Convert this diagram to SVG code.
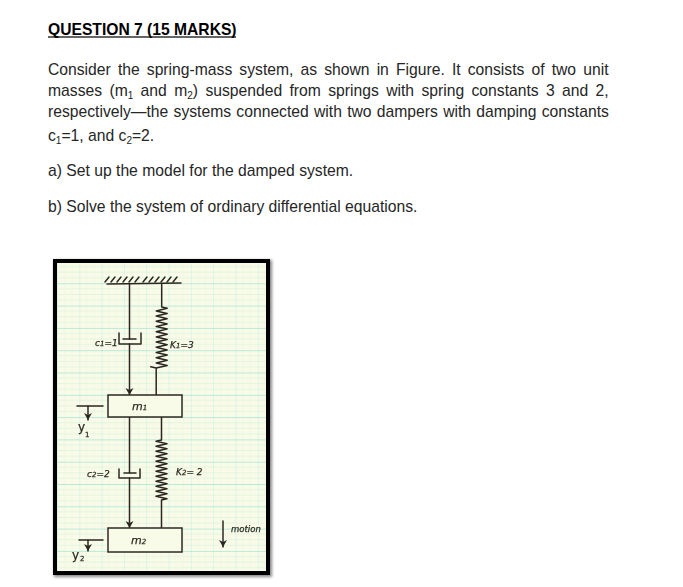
<svg xmlns="http://www.w3.org/2000/svg" width="683" height="587" viewBox="0 0 683 587">
<style>
.t{font-family:"Liberation Sans",Arial,sans-serif;font-size:15.7px;fill:#262626}
.h{font-family:"Liberation Sans",Arial,sans-serif;font-size:15.65px;font-weight:bold;fill:#000}
.sub{font-size:10px}
.ink{fill:none;stroke:#2c2820;stroke-width:1.5;stroke-linecap:round;stroke-linejoin:round}
.box{fill:#f9fbe9;stroke:#2c2820;stroke-width:1.5}
.hw{font-family:"DejaVu Sans",sans-serif;font-style:oblique;font-size:9px;fill:#2c2820;stroke:#2c2820;stroke-width:.25}
.s{font-size:7px}
</style>
<defs>
<pattern id="grid" patternUnits="userSpaceOnUse" x="57" y="261" width="22.3" height="22.3">
<rect width="22.3" height="22.3" fill="#f9fbe8"/>
<path d="M0 5.57H22.3M0 11.15H22.3M0 16.72H22.3" stroke="#dff3e0" stroke-width=".9" fill="none"/>
<path d="M7.4 0V22.3M14.8 0V22.3" stroke="#eef6e3" stroke-width=".8" fill="none"/>
<path d="M0 0V22.3" stroke="#c8eee0" stroke-width="1" fill="none"/>
<path d="M0 0H22.3" stroke="#98e2d2" stroke-width="1.3" fill="none"/>
</pattern>
<marker id="tip" markerWidth="9" markerHeight="9" refX="7" refY="4" orient="auto" markerUnits="userSpaceOnUse">
<path d="M0 0L7 4L0 8L2 4Z" fill="#2c2820"/>
</marker>
<filter id="soft" x="-5%" y="-5%" width="110%" height="110%"><feGaussianBlur stdDeviation=".35"/></filter>
<filter id="shadow" x="-5%" y="-5%" width="110%" height="110%"><feGaussianBlur stdDeviation="1.5"/></filter>
</defs>

<rect width="683" height="587" fill="#fff"/>

<g id="question">
<text class="h" x="48" y="35">QUESTION 7 (15 MARKS)</text>
<rect x="48" y="36.4" width="188" height="1.2" fill="#000"/>
<text class="t" x="48" y="75" word-spacing="2.75">Consider the spring-mass system, as shown in Figure. It consists of two unit</text>
<text class="t" x="48" y="96" word-spacing="3">masses (m<tspan class="sub" dy="3">1</tspan><tspan dy="-3"> and m</tspan><tspan class="sub" dy="3">2</tspan><tspan dy="-3">) suspended from springs with spring constants 3 and 2,</tspan></text>
<text class="t" x="48" y="117" word-spacing="0.9">respectively—the systems connected with two dampers with damping constants</text>
<text class="t" x="48" y="141">c<tspan class="sub" dy="3">1</tspan><tspan dy="-3">=1, and c</tspan><tspan class="sub" dy="3">2</tspan><tspan dy="-3">=2.</tspan></text>
<text class="t" x="48" y="176">a) Set up the model for the damped system.</text>
<text class="t" x="48" y="212">b) Solve the system of ordinary differential equations.</text>
</g>

<g id="frame">
<rect x="54" y="260" width="218" height="317" fill="#888" filter="url(#shadow)"/>
<rect x="55" y="261" width="213" height="312" fill="url(#grid)" stroke="#000" stroke-width="4"/>
</g>

<g filter="url(#soft)">
<g id="ceiling">
<path class="ink" d="M107 284L181 283"/>
<path class="ink" d="M105 282L109 277M111 282L115 277M117 282L121 277M123 282L127 277M129 282L133 277M135 282L139 277M143 282L147 277M149 282L153 277M155 282L159 277M161 282L165 277M167 282L171 277M173 282L177 277"/>
</g>

<g id="connectors">
<path class="ink" d="M129.5 284V339"/>
<path class="ink" d="M129.5 344V395" marker-end="url(#tip)"/>
<path class="ink" d="M161.7 284V307l5.5 1.3-11 2.6 11 2.6-11 2.6 11 2.6-11 2.6 11 2.6-11 2.6 11 2.6-11 2.6 11 2.6-11 2.6 11 2.6-11 2.6 11 2.6-11 2.6 11 2.6-11 2.6 11 2.6-11 2.6 11 2.6-11 2.6 11 2.6-11 2.6-5.5 -1.3 5.5 1.3V395"/>
<path class="ink" d="M129.5 417V473"/>
<path class="ink" d="M129.5 478V528" marker-end="url(#tip)"/>
<path class="ink" d="M161.5 417V440l-5.5 1.3 11 2.5-11 2.5 11 2.5-11 2.5 11 2.5-11 2.5 11 2.5-11 2.5 11 2.5-11 2.5 11 2.5-11 2.5 11 2.5-11 2.5 11 2.5-11 2.5 11 2.5-11 2.5 11 2.5-11 2.5 11 2.5-11 2.5 11 2.5-5.5 1.3V528"/>
</g>

<g id="damper-c1">
<path class="ink" d="M119 333V344H141V333M123 339H136"/>
<text class="hw" x="95" y="346">c<tspan class="s">1</tspan>=1</text>
</g>
<g id="spring-k1"><text class="hw" x="170" y="348">K<tspan class="s">1</tspan>=3</text></g>

<g id="mass-m1">
<rect class="box" x="108" y="395" width="74" height="22"/>
<text class="hw" x="132" y="410" style="font-size:11px">m<tspan class="s">1</tspan></text>
</g>

<g id="marker-y1">
<path class="ink" d="M77 406H103"/>
<path class="ink" d="M88 406V420" marker-end="url(#tip)"/>
<text class="hw" x="78" y="431" style="font-size:12px;font-style:normal">y</text>
<text class="hw" x="85" y="437" style="font-size:7px;font-style:normal">1</text>
</g>

<g id="damper-c2">
<path class="ink" d="M119 469V478H140V469M124 473H136"/>
<text class="hw" x="87" y="477">c<tspan class="s">2</tspan>=2</text>
</g>
<g id="spring-k2"><text class="hw" x="176" y="475">K<tspan class="s">2</tspan>= 2</text></g>

<g id="mass-m2">
<rect class="box" x="108" y="528" width="74" height="24"/>
<text class="hw" x="131" y="544" style="font-size:11px">m<tspan class="s">2</tspan></text>
</g>

<g id="marker-y2">
<path class="ink" d="M79 540H103"/>
<path class="ink" d="M88 540V551" marker-end="url(#tip)"/>
<text class="hw" x="72" y="559" style="font-size:12px;font-style:normal">y</text>
<text class="hw" x="80" y="561" style="font-size:7px;font-style:normal">2</text>
</g>

<g id="motion">
<path class="ink" d="M223 521V547" marker-end="url(#tip)"/>
<text class="hw" x="231" y="532" style="font-size:8.5px">motion</text>
</g>
</g>
</svg>
